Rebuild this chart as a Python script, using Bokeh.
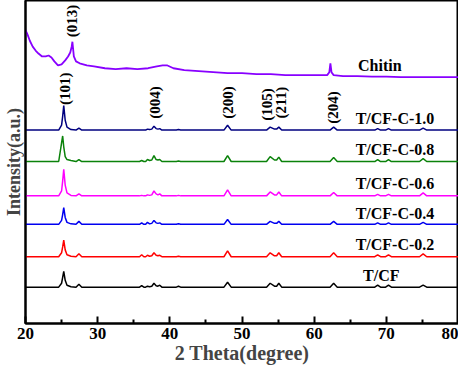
from bokeh.plotting import figure
from bokeh.models import Range1d, FixedTicker
from bokeh.embed import file_html
from bokeh.resources import INLINE
from bokeh.core.properties import value

# ---------------- data ----------------
chitin_theta = [20.0, 20.3, 20.6, 21.0, 21.4, 21.8, 22.3, 22.8, 23.2, 23.6, 24.0, 24.5, 25.0, 25.5,
                25.9, 26.2, 26.4, 26.5, 26.7, 27.0, 27.5, 28.5, 29.5, 31.0, 32.5, 34.0, 35.5, 37.0,
                38.2, 39.0, 39.6, 40.5, 42.0, 44.0, 46.0, 48.0, 50.0, 52.0, 54.0, 56.0, 58.0, 60.0,
                61.8, 62.1, 62.25, 62.4, 62.7, 64.0, 66.0, 68.0, 70.0, 72.0, 74.0, 76.0, 78.0, 80.0]
chitin_int = [299, 294, 288, 282, 278, 275, 272, 272, 273, 271, 267, 263, 264, 268,
              272, 276, 282, 287, 272, 267, 265, 263, 262, 260, 259, 260, 259, 260,
              262, 263, 263, 260, 258, 257, 256, 255, 255, 254, 254, 253, 253, 253,
              253, 256, 265, 256, 253, 252, 252, 251.5, 251.5, 251, 251, 251, 251, 251]

theta = [20.0, 24.6, 25.0, 25.15, 25.3, 25.5, 25.75, 26.3, 27.0, 27.4, 27.8, 35.8, 36.1, 36.4,
         36.65, 36.9, 37.2, 37.5, 37.8, 38.1, 38.35, 38.6, 38.9, 40.9, 41.2, 41.5, 47.5, 48.0,
         48.5, 53.4, 53.9, 54.5, 54.8, 55.1, 55.5, 62.2, 62.7, 63.2, 68.4, 68.8, 69.2, 69.9,
         70.3, 70.7, 74.6, 75.1, 75.6, 80.0]

tcfc10 = [0, 0, 5, 14, 25, 10, 3, 0.5, 0, 2, 0, 0, 0, 0, 0, 1, 0.5, 1, 4, 1.5, 1, 1.5, 0, 0,
          0.5, 0, 0, 5, 0, 0, 3, 1, 1, 3, 0, 0, 3, 0, 0, 1.5, 0, 0, 1.5, 0, 0, 2, 0, 0]
tcfc08 = [0, 0, 19, 26, 15, 5, 2, 1, 0, 2, 0, 0, 1, 0, 0, 2, 1, 1.5, 6, 2, 1.5, 2, 0, 0,
          0.5, 0, 0, 6, 0, 0, 5, 1.5, 1.5, 4.5, 0, 0, 4, 0, 0, 2, 0, 0, 2, 0, 0, 3, 0, 0]
tcfc06 = [0, 0, 5, 15, 27, 11, 3, 0.5, 0, 2, 0, 0, 0.5, 0, 0, 1, 0.5, 1, 5, 2, 1, 2, 0, 0,
          0.5, 0, 0, 6, 0, 0, 4, 1, 1, 4, 0, 0, 3.5, 0, 0, 1.5, 0, 0, 1.5, 0, 0, 3, 0, 0]
tcfc04 = [0, 0, 4, 10, 17, 7, 2, 0.5, 0, 3, 0, 0, 1.5, 0, 0, 2, 0.5, 1, 4, 1.5, 1, 1.5, 0, 0,
          0.5, 0, 0, 5, 0, 0, 3, 1, 1, 3, 0, 0, 3, 0, 0, 1.5, 0, 0, 1.5, 0, 0, 2, 0, 0]
tcfc02 = [0, 0, 4, 10, 17, 7, 2, 0.5, 0, 3, 0, 0, 2, 0, 0, 1.5, 0.5, 1, 4, 1.5, 1, 1.5, 0, 0,
          0.5, 0, 0, 6, 0, 0, 4, 1, 1, 4, 0, 0, 4, 0, 0, 2, 0, 0, 2, 0, 0, 3, 0, 0]
tcf = [0, 0, 4, 10, 16, 7, 2, 0.5, 0, 3, 0, 0, 1.5, 0, 0, 1, 0.5, 1, 4, 1.5, 1, 2, 0, 0,
       1, 0, 0, 5, 0, 0, 4, 1, 1, 4, 0, 0, 4, 0, 0, 2, 0, 0, 2, 0, 0, 2, 0, 0]

series_names = ["T/CF-C-1.0", "T/CF-C-0.8", "T/CF-C-0.6", "T/CF-C-0.4", "T/CF-C-0.2", "T/CF"]
series_values = [tcfc10, tcfc08, tcfc06, tcfc04, tcfc02, tcf]
series_offsets = [197, 165, 130, 101, 68, 37]
series_colors = ["#000080", "#0A820A", "#FF00FF", "#0000F0", "#FF0000", "#000000"]
label_x = [71.2, 71.2, 71.2, 71.2, 71.2, 69.3]
label_y = [209, 177, 143, 112, 80, 49]

peak_labels = ["(013)", "(101)", "(004)", "(200)", "(105)", "(211)", "(204)"]
peak_x = [26.5, 25.5, 37.9, 48.1, 53.4, 55.45, 62.65]
peak_y = [308, 239, 225, 225, 223, 225, 220]

x_ticks = [20, 30, 40, 50, 60, 70, 80]
x_minor = [25, 35, 45, 55, 65, 75]

FONT = "Liberation Serif"

# ---------------- figure ----------------
p = figure(width=458, height=366, output_backend="svg", toolbar_location=None,
           x_range=Range1d(20, 80), y_range=Range1d(0, 329),
           min_border_left=0, min_border_right=0, min_border_top=0, min_border_bottom=0)
p.xgrid.visible = False
p.ygrid.visible = False
p.outline_line_color = "black"
p.outline_line_width = 2
p.background_fill_color = "white"

xa = p.xaxis[0]
xa.ticker = FixedTicker(ticks=x_ticks, minor_ticks=x_minor)
xa.major_tick_in = 7
xa.major_tick_out = 0
xa.minor_tick_in = 4
xa.minor_tick_out = 0
xa.axis_line_width = 2
xa.major_tick_line_width = 2
xa.minor_tick_line_width = 2
xa.major_label_text_font = FONT
xa.major_label_text_font_style = "bold"
xa.major_label_text_font_size = "17px"
xa.major_label_text_color = "black"
xa.major_label_standoff = 4
xa.axis_label = "2 Theta(degree)"
xa.axis_label_text_font = FONT
xa.axis_label_text_font_style = "bold"
xa.axis_label_text_font_size = "20px"
xa.axis_label_standoff = 0

ya = p.yaxis[0]
ya.ticker = FixedTicker(ticks=[])
ya.axis_line_width = 2
ya.axis_label = "Intensity(a.u.)"
ya.axis_label_text_font = FONT
ya.axis_label_text_font_style = "bold"
ya.axis_label_text_font_size = "18px"
ya.axis_label_standoff = 2

p.line(chitin_theta, chitin_int, color="#8800FF", line_width=1.8)
for vals, off, col in zip(series_values, series_offsets, series_colors):
    p.line(theta, [v + off for v in vals], color=col, line_width=1.5)

p.text(x=label_x + [69.1], y=label_y + [263], text=series_names + ["Chitin"],
       text_font=value(FONT), text_font_style="bold", text_font_size="16px",
       text_align="center", text_baseline="middle", text_color="black")

p.text(x=peak_x, y=peak_y, text=peak_labels, angle=1.5708,
       text_font=value(FONT), text_font_style="bold", text_font_size="15px",
       text_align="center", text_baseline="middle", text_color="black")

open("out.html", "w").write(file_html(p, INLINE))
